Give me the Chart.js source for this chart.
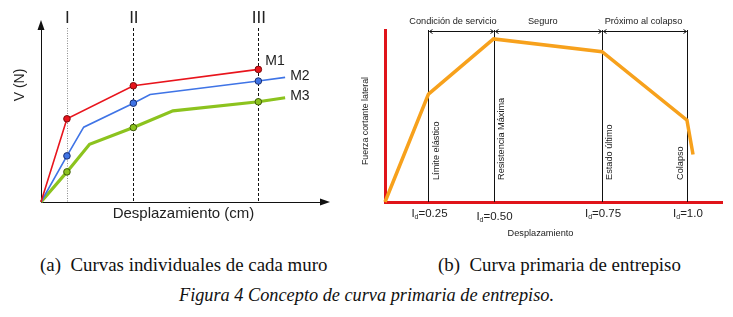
<!DOCTYPE html>
<html>
<head>
<meta charset="utf-8">
<script src="https://cdn.jsdelivr.net/npm/chart.js@4.4.1/dist/chart.umd.min.js"></script>
<style>
  body { margin: 0; background: #fff; }
  #wrap { position: relative; width: 733px; height: 317px; overflow: hidden; background: #fff; }
  #wrap canvas { position: absolute; left: 0; top: 0; }
  .cap { position: absolute; font-family: "Liberation Serif", "Times New Roman", serif; color: #111; white-space: nowrap; line-height: 22px; }
</style>
</head>
<body>
<div id="wrap">
  <canvas id="chartA" width="733" height="240"></canvas>
  <canvas id="chartB" width="733" height="240"></canvas>
  <div class="cap" style="left:40px; top:254px; font-size:18.9px;">(a)&nbsp; Curvas individuales de cada muro</div>
  <div class="cap" style="left:438px; top:254px; font-size:18.9px;">(b)&nbsp; Curva primaria de entrepiso</div>
  <div class="cap" style="left:0; width:733px; text-align:center; top:284px; font-size:18.3px; font-style:italic;">Figura 4 Concepto de curva primaria de entrepiso.</div>
</div>
<script>
// ---- (a) individual wall curves ----
const stageX = [0.93, 3.31, 7.79];
const stageLabels = ['I', 'II', 'III'];

const m1X = [0, 0.93, 3.31, 7.79];
const m1Y = [0, 4.78, 6.68, 7.62];
const m2X = [0, 0.93, 1.53, 3.31, 3.91, 7.79, 8.75];
const m2Y = [0, 2.65, 4.30, 5.68, 6.18, 6.95, 7.16];
const m3X = [0, 0.93, 1.74, 3.31, 4.73, 7.79, 8.75];
const m3Y = [0, 1.73, 3.32, 4.28, 5.24, 5.76, 5.99];
const wallNames = ['M1', 'M2', 'M3'];

// ---- (b) storey primary curve ----
const curveX = [0, 12.9, 32.2, 64.4, 89.6, 91.4];
const curveY = [0, 62.7, 94.8, 87.4, 47.6, 27.6];
const limitX = [12.9, 32.2, 64.4, 89.6];
const limitNames = ['Límite elástico', 'Resistencia Máxima', 'Estado último', 'Colapso'];
const limitTicks = ['0.25', '0.50', '0.75', '1.0'];
const zoneNames = ['Condición de servicio', 'Seguro', 'Próximo al colapso'];

const SANS = '"Liberation Sans", Arial, sans-serif';

/**
 * Zip two arrays into {x, y} points
 */
function toPoints(xs, ys) {
  return xs.map((x, i) => ({ x: x, y: ys[i] }));
}

/**
 * Hidden linear axis that only keeps its border line
 */
function bareAxis(max, color, width) {
  return {
    type: 'linear', min: 0, max: max,
    ticks: { display: false },
    grid: { display: false, drawTicks: false },
    border: { display: true, color: color, width: width }
  };
}

function wallDataset(name, xs, ys, color, edge, width) {
  return {
    label: name,
    data: toPoints(xs, ys),
    borderColor: color,
    borderWidth: width,
    pointBackgroundColor: color,
    pointBorderColor: edge,
    pointBorderWidth: 1,
    pointRadius: ctx => stageX.includes(ctx.raw.x) ? 3.3 : 0,
    tension: 0,
    clip: false
  };
}

function arrowHead(ctx, x, y, dir) {
  ctx.beginPath();
  if (dir === 'up') {
    ctx.moveTo(x, y); ctx.lineTo(x - 3.5, y + 10); ctx.lineTo(x + 3.5, y + 10);
  } else {
    ctx.moveTo(x, y); ctx.lineTo(x - 10, y - 3.5); ctx.lineTo(x - 10, y + 3.5);
  }
  ctx.closePath();
  ctx.fill();
}

const wallGuides = {
  id: 'wallGuides',
  beforeDatasetsDraw(chart) {
    const { ctx, chartArea: a, scales: { x } } = chart;
    ctx.save();
    ctx.lineWidth = 1;
    stageX.forEach((v, i) => {
      const px = Math.round(x.getPixelForValue(v)) + 0.5;
      ctx.strokeStyle = i === 0 ? '#8a8a8a' : '#111';
      ctx.setLineDash(i === 0 ? [1, 1.5] : [3, 2]);
      ctx.beginPath();
      ctx.moveTo(px, a.top);
      ctx.lineTo(px, a.bottom);
      ctx.stroke();
    });
    ctx.restore();
  },
  afterDraw(chart) {
    const { ctx, chartArea: a, scales: { x } } = chart;
    ctx.save();
    ctx.fillStyle = '#111';
    arrowHead(ctx, a.left, a.top - 8, 'up');
    arrowHead(ctx, a.right + 10, a.bottom, 'right');

    ctx.fillStyle = '#222';
    ctx.textAlign = 'center';
    ctx.textBaseline = 'middle';
    ctx.font = '17px ' + SANS;
    stageX.forEach((v, i) => ctx.fillText(stageLabels[i], x.getPixelForValue(v) + 0.5, 18));

    ctx.font = '15px ' + SANS;
    ctx.fillText('Desplazamiento (cm)', (a.left + a.right) / 2 + 3, a.bottom + 12);

    // wall names next to each curve end
    const offs = [[7, -8], [5, -1], [5, -2]];
    ctx.font = '14px ' + SANS;
    ctx.textAlign = 'left';
    chart.data.datasets.forEach((ds, i) => {
      const pts = chart.getDatasetMeta(i).data;
      const last = pts[pts.length - 1];
      ctx.fillText(wallNames[i], last.x + offs[i][0], last.y + offs[i][1]);
    });

    ctx.translate(20, 85);
    ctx.rotate(-Math.PI / 2);
    ctx.textAlign = 'center';
    ctx.fillText('V (N)', 0, 0);
    ctx.restore();
  }
};

const storeyMarks = {
  id: 'storeyMarks',
  beforeDatasetsDraw(chart) {
    const { ctx, chartArea: a, scales: { x } } = chart;
    const px = limitX.map(v => Math.round(x.getPixelForValue(v)) + 0.5);
    ctx.save();
    ctx.strokeStyle = '#111';
    ctx.lineWidth = 1;
    px.forEach(p => {
      ctx.beginPath(); ctx.moveTo(p, a.top); ctx.lineTo(p, a.bottom); ctx.stroke();
    });
    // zone arrows between the limit lines
    const ay = a.top + 1.5;
    for (let i = 0; i < px.length - 1; i++) {
      const l = px[i] + 1, r = px[i + 1] - 1;
      ctx.beginPath();
      ctx.moveTo(l, ay); ctx.lineTo(r, ay);
      ctx.moveTo(l + 3, ay - 2); ctx.lineTo(l, ay); ctx.lineTo(l + 3, ay + 2);
      ctx.moveTo(r - 3, ay - 2); ctx.lineTo(r, ay); ctx.lineTo(r - 3, ay + 2);
      ctx.stroke();
    }
    ctx.restore();
  },
  afterDraw(chart) {
    const { ctx, chartArea: a, scales: { x } } = chart;
    const px = limitX.map(v => x.getPixelForValue(v));
    ctx.save();
    ctx.fillStyle = '#222';
    ctx.textBaseline = 'middle';
    ctx.textAlign = 'center';
    ctx.font = '9.2px ' + SANS;
    const shift = [-8, -5, -1];
    zoneNames.forEach((n, i) => ctx.fillText(n, (px[i] + px[i + 1]) / 2 + shift[i], 21.5));

    ctx.fillText('Desplazamiento', (a.left + a.right) / 2 - 13, a.bottom + 31);

    // rotated limit names along each line
    limitNames.forEach((n, i) => {
      ctx.save();
      ctx.translate(px[i] + (i === 3 ? -6.5 : 7.5), 180);
      ctx.rotate(-Math.PI / 2);
      ctx.textAlign = 'left';
      ctx.fillText(n, 0, 0);
      ctx.restore();
    });

    // I_d tick labels
    limitTicks.forEach((t, i) => {
      const big = '11.5px ' + SANS, small = '7px ' + SANS;
      ctx.font = big;
      const wI = ctx.measureText('I').width, wT = ctx.measureText('=' + t).width;
      ctx.font = small;
      const wD = ctx.measureText('d').width;
      let cx = px[i] + 1 - (wI + wD + wT) / 2;
      const cy = a.bottom + (i === 1 ? 15 : 12);
      ctx.textAlign = 'left';
      ctx.font = big;
      ctx.fillText('I', cx, cy);
      ctx.font = small;
      ctx.fillText('d', cx + wI, cy + 3);
      ctx.font = big;
      ctx.fillText('=' + t, cx + wI + wD, cy);
    });

    ctx.translate(366, 121);
    ctx.rotate(-Math.PI / 2);
    ctx.textAlign = 'center';
    ctx.font = '8.8px ' + SANS;
    ctx.fillText('Fuerza cortante lateral', 0, 0);
    ctx.restore();
  }
};

new Chart(document.getElementById('chartA'), {
  type: 'line',
  data: {
    datasets: [
      wallDataset('M1', m1X, m1Y, '#e8141c', '#7a0a0a', 1.6),
      wallDataset('M2', m2X, m2Y, '#3f74e6', '#1b2f70', 1.6),
      wallDataset('M3', m3X, m3Y, '#8cc31e', '#3f5a08', 3.2)
    ]
  },
  options: {
    responsive: false,
    animation: false,
    layout: { padding: { left: 41, top: 28, right: 413, bottom: 38 } },
    scales: { x: bareAxis(10, '#111', 1), y: bareAxis(10, '#111', 1) },
    plugins: { legend: { display: false }, tooltip: { enabled: false } }
  },
  plugins: [wallGuides]
});

new Chart(document.getElementById('chartB'), {
  type: 'line',
  data: {
    datasets: [{
      label: 'Curva primaria',
      data: toPoints(curveX, curveY),
      borderColor: '#f7a11c',
      borderWidth: 3.5,
      pointRadius: 0,
      tension: 0,
      clip: false
    }]
  },
  options: {
    responsive: false,
    animation: false,
    layout: { padding: { left: 385, top: 30, right: 11, bottom: 38 } },
    scales: { x: bareAxis(100, '#e0141a', 3), y: bareAxis(100, '#e0141a', 3) },
    plugins: { legend: { display: false }, tooltip: { enabled: false } }
  },
  plugins: [storeyMarks]
});
</script>
</body>
</html>
